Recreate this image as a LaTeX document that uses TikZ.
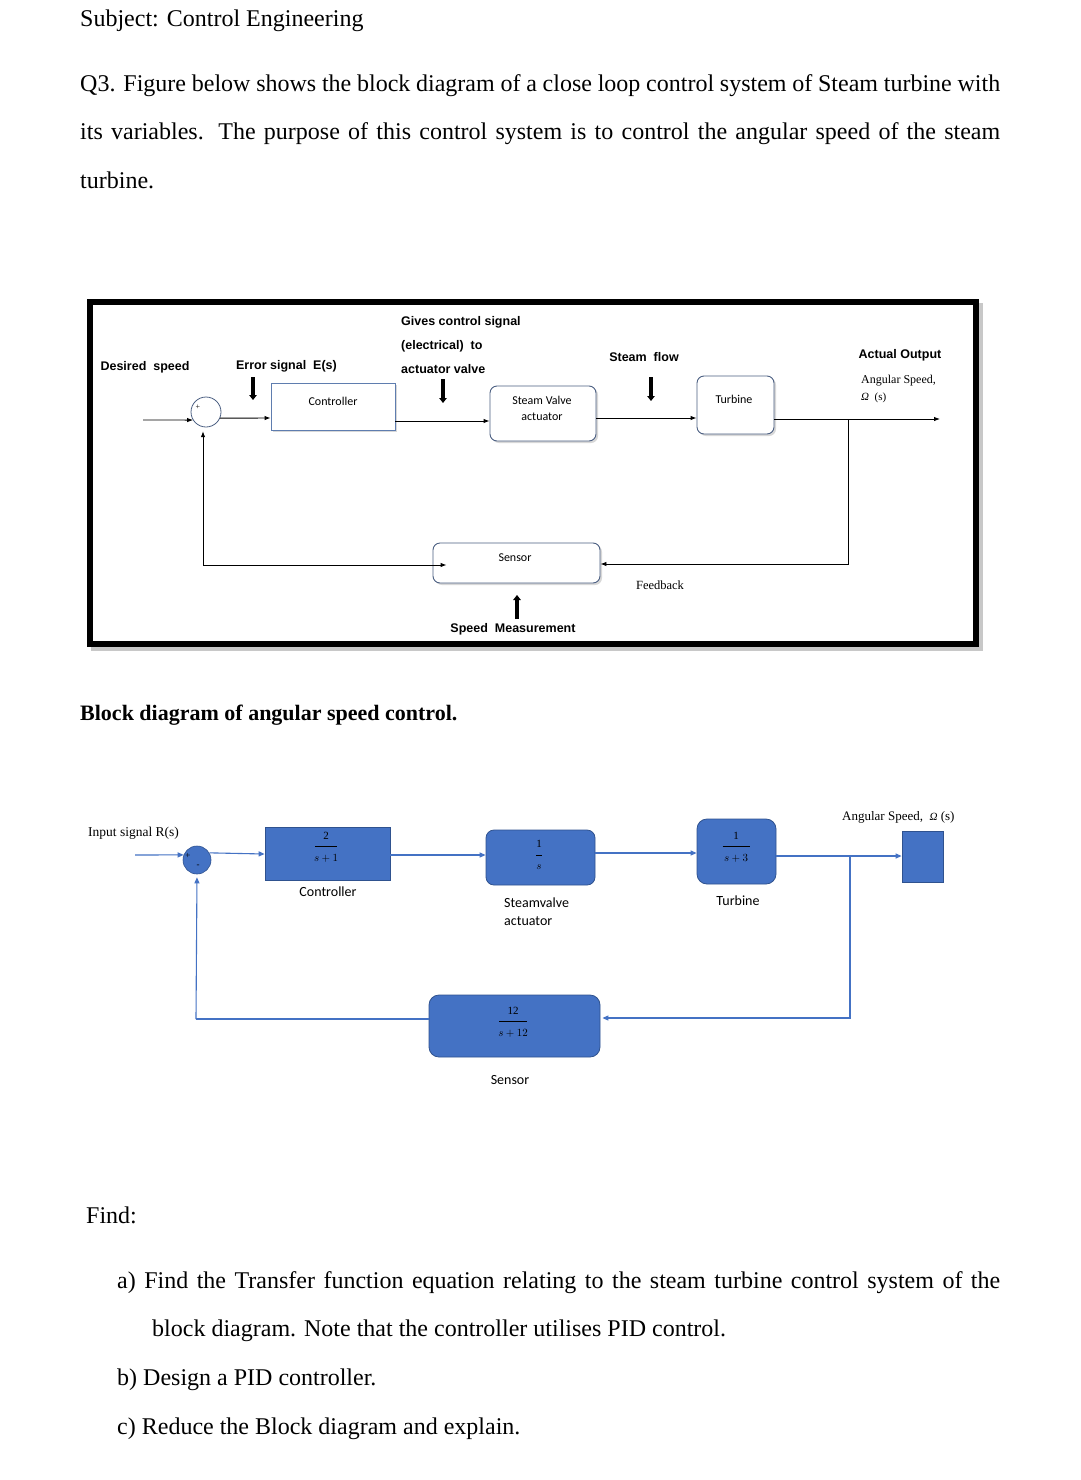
\documentclass[tikz,border=0pt]{standalone}
\usepackage{fontspec}
\setmainfont{Liberation Serif}
\newfontfamily\arialf{Liberation Sans}
\newfontfamily\calf{Carlito}
\usetikzlibrary{arrows.meta,shadows,calc}
\definecolor{bl}{RGB}{68,114,196}
\definecolor{bld}{RGB}{47,82,143}
\definecolor{tbd}{RGB}{75,95,130}
\definecolor{tbc}{RGB}{95,125,175}
\newcommand{\fracline}[1]{\rule[3pt]{#1}{0.7pt}}
\begin{document}
\begin{tikzpicture}[x=1pt,y=-1pt,
  arr/.style={-{Latex[length=6pt,width=4.5pt]}, line width=0.9pt},
  barr/.style={bl, line width=1.1pt, -{Triangle[length=6pt,width=5pt]}},
  bline/.style={bl, line width=1.1pt},
  thk/.style={line width=3.2pt, -{Triangle[length=5pt,width=7.5pt]}},
  lbl/.style={font=\arialf\bfseries\fontsize{12.5}{14}\selectfont, inner sep=0pt},
  cal/.style={font=\calf\fontsize{12}{14}\selectfont, inner sep=0pt},
  calb/.style={font=\calf\fontsize{14}{16}\selectfont, inner sep=0pt},
  ser/.style={font=\fontsize{12.5}{14}\selectfont, inner sep=0pt},
  body/.style={font=\fontsize{24}{28}\selectfont, inner sep=0pt},
  rbox/.style={draw=tbd, line width=0.9pt, rounded corners=7pt, fill=white,
    drop shadow={shadow xshift=2pt,shadow yshift=-2pt,opacity=.3}},
  sbox/.style={draw=tbc, line width=0.9pt, fill=white,
    drop shadow={shadow xshift=2pt,shadow yshift=-2pt,opacity=.3}},
  bbox/.style={draw=bld, line width=0.8pt, fill=bl},
  frac/.style={font=\fontsize{11}{11}\selectfont, text=black, inner sep=0pt, align=center},
]
\useasboundingbox (0,0) rectangle (1080,1480);
\fill[white] (0,0) rectangle (1080,1480);

% ---------- header text ----------
\node[body, anchor=base west] (subj) at (80,27) {Subject: Control Engineering};
\node[body, anchor=base west] (q1) at (80,91) {\makebox[920pt][s]{Q3. Figure below shows the block diagram of a close loop control system of Steam turbine with}};
\node[body, anchor=base west] (q2) at (80,139) {\makebox[920pt][s]{its variables. The purpose of this control system is to control the angular speed of the steam}};
\node[body, anchor=base west] (q3) at (80,188) {turbine.};

% ---------- top figure frame ----------
\draw[line width=6pt, black!30, opacity=0.7] (94,306) rectangle (980,648);
\draw[line width=6pt, fill=white] (90,302) rectangle (976,644);

% blocks
\node[draw=none, circle, minimum size=30pt, inner sep=0pt] (s1) at (206,412) {};
\draw[tbd, line width=0.8pt] (s1.center) circle (15pt);
\node[font=\fontsize{8}{9}\selectfont, inner sep=0pt] (s1p) at (198,407) {+};
\node[sbox, minimum width=124pt, minimum height=47pt] (c1) at (333,406.5) {};
\node[rbox, minimum width=106pt, minimum height=55pt] (v1) at (543,413.5) {};
\node[rbox, minimum width=77pt, minimum height=58pt] (t1) at (735.5,405) {};
\node[rbox, minimum width=167pt, minimum height=40pt] (se1) at (516.5,563) {};

\node[cal, anchor=base] (c1t) at (333,405) {Controller};
\node[cal, anchor=base] (v1t) at (542,404) {Steam Valve};
\node[cal, anchor=base] (v1u) at (542,420.5) {actuator};
\node[cal, anchor=base] (t1t) at (734,403) {Turbine};
\node[cal, anchor=base] (se1t) at (515,561) {Sensor};

% labels
\node[lbl, anchor=base] (ds) at (145,370.5) {Desired\ \ speed};
\node[lbl, anchor=base] (es) at (286.5,369.5) {Error signal\ \ E(s)};
\node[lbl, anchor=base west] (g1) at (401,325.5) {Gives control signal};
\node[lbl, anchor=base west] (g2) at (401,349.5) {(electrical)\ \ to};
\node[lbl, anchor=base west] (g3) at (401,373.5) {actuator valve};
\node[lbl, anchor=base] (sf) at (644,361.5) {Steam\ \ flow};
\node[lbl, anchor=base] (ao) at (900,358.5) {Actual Output};
\node[ser, anchor=base west, font=\fontsize{12}{14}\selectfont] (as1) at (861,383) {Angular Speed,};
\node[ser, anchor=base west, font=\fontsize{11}{13}\selectfont] (as2) at (861,400) {\textit{Ω}\ \ (s)};
\node[ser, anchor=base] (fb) at (660,589) {Feedback};
\node[lbl, anchor=base] (sm) at (513,632.5) {Speed\ \ Measurement};

% thick indicator arrows
\coordinate (ta1) at (253,377); \coordinate (tb1) at (253,400);
\coordinate (ta2) at (443,379); \coordinate (tb2) at (443,403);
\coordinate (ta3) at (651,377); \coordinate (tb3) at (651,401);
\coordinate (ta4) at (517,619); \coordinate (tb4) at (517,595);
\draw[thk] (ta1) -- (tb1);
\draw[thk] (ta2) -- (tb2);
\draw[thk] (ta3) -- (tb3);
\draw[thk] (ta4) -- (tb4);

% connectors
\coordinate (in1) at (143,420);
\coordinate (out1) at (940,419);
\coordinate (br1) at (848,419);
\coordinate (fbc) at (203,565);
\draw[arr] (in1) -- (s1.212);
\draw[arr] (s1.-24) -- ([yshift=-11.5pt]c1.west);
\draw[arr] ([yshift=-14.5pt]c1.east) -- ([yshift=-7.5pt]v1.west);
\draw[arr] ([yshift=-4.5pt]v1.east) -- ([yshift=-13pt]t1.west);
\draw[arr] ([yshift=-14pt]t1.east) -- (out1);
\draw[arr] (br1) |- ([yshift=-1pt]se1.east);
\draw[arr] (fbc) -- ([xshift=14pt,yshift=-2pt]se1.west);
\draw[arr, shorten >=4pt] (fbc) -- (fbc |- s1.south);

% caption
\node[anchor=base west, inner sep=0pt, font=\bfseries\fontsize{22}{26}\selectfont] (cap) at (80,720) {Block diagram of angular speed control.};

% ---------- bottom diagram ----------
\node[circle, fill=bl, draw=bld, line width=0.6pt, minimum size=28pt, inner sep=0pt] (s2) at (197,860) {};
\node[font=\fontsize{9}{10}\selectfont, inner sep=0pt] (s2p) at (188,856) {+};
\node[font=\fontsize{9}{10}\selectfont, inner sep=0pt] (s2m) at (198,866) {-};
\node[bbox, minimum width=125pt, minimum height=53pt] (c2) at (327.5,853.5) {};
\node[bbox, rounded corners=8pt, minimum width=109pt, minimum height=55pt] (v2) at (540.5,857.5) {};
\node[bbox, rounded corners=10pt, minimum width=79pt, minimum height=65pt] (t2) at (736.5,851.5) {};
\node[bbox, minimum width=41pt, minimum height=51pt] (o2) at (922.5,856.5) {};
\node[bbox, rounded corners=10pt, minimum width=171pt, minimum height=62pt] (se2) at (514.5,1026) {};

\node[frac] (f1) at (326,847) {2\\\fracline{22pt}\\$s+1$};
\node[frac] (f2) at (539,855) {1\\\fracline{6pt}\\$s$};
\node[frac] (f3) at (736,847) {1\\\fracline{27pt}\\$s+3$};
\node[frac] (f4) at (513,1022) {12\\\fracline{28pt}\\$s+12$};

\node[calb, anchor=base] (c2t) at (328,896) {Controller};
\node[calb, anchor=base west] (v2t) at (504,907) {Steamvalve};
\node[calb, anchor=base west] (v2u) at (504,925.5) {actuator};
\node[calb, anchor=base] (t2t) at (738,905) {Turbine};
\node[calb, anchor=base] (se2t) at (510,1084) {Sensor};
\node[anchor=base west, inner sep=0pt, font=\fontsize{13.5}{15}\selectfont] (isr) at (88,836.5) {Input signal R(s)};
\node[anchor=base west, inner sep=0pt, font=\fontsize{13}{15}\selectfont] (asb) at (842,820.5) {Angular Speed,\ \ {\fontsize{11}{12}\selectfont\textit{Ω}} (s)};

\coordinate (in2) at (135,855);
\coordinate (br2) at (850,856);
\coordinate (fb2) at (196,1019);
\draw[barr] (in2) -- (s2.159);
\draw[barr] (s2.30) -- ([yshift=-0.5pt]c2.west);
\draw[barr] ([yshift=-1.5pt]c2.east) -- ([yshift=2.5pt]v2.west);
\draw[barr] ([yshift=4.5pt]v2.east) -- ([yshift=-1.5pt]t2.west);
\draw[barr] ([yshift=-4.5pt]t2.east) -- ([yshift=0.5pt]o2.west);
\draw[barr] (br2) |- ([xshift=2pt,yshift=8pt]se2.east);
\draw[bline] ([yshift=7pt]se2.west) -- (fb2);
\draw[barr, shorten >=3pt] (fb2) -- (s2.south);

% ---------- questions ----------
\node[body, anchor=base west] (find) at (86,1223) {Find:};
\node[body, anchor=base west] (qa) at (117,1288) {\makebox[883pt][s]{a) Find the Transfer function equation relating to the steam turbine control system of the}};
\node[body, anchor=base west] (qa2) at (152,1336) {block diagram. Note that the controller utilises PID control.};
\node[body, anchor=base west] (qb) at (117,1385) {b) Design a PID controller.};
\node[body, anchor=base west] (qc) at (117,1434) {c) Reduce the Block diagram and explain.};
\end{tikzpicture}
\end{document}
